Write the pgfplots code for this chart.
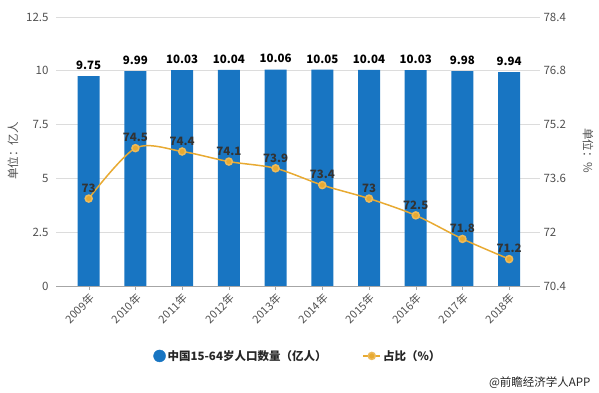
\documentclass[border=0pt]{standalone}
\usepackage{pgfplots}
\pgfplotsset{compat=1.18}
\usepackage{fontspec}
\setmainfont{Noto Sans CJK SC}
\definecolor{barblue}{RGB}{24,117,194}
\definecolor{lineorange}{RGB}{232,170,50}
\definecolor{gridgray}{RGB}{220,220,220}
\definecolor{txtgray}{RGB}{80,80,80}
\begin{document}
\begin{tikzpicture}[x=1pt,y=1pt]
\path[use as bounding box] (0,0) rectangle (599,393);
\begin{axis}[
  at={(56pt,107pt)}, anchor=south west, scale only axis,
  width=484pt, height=269pt,
  xmin=-0.7, xmax=9.66, ymin=0, ymax=12.5,
  /pgf/number format/assume math mode=true,
  axis x line*=bottom, axis y line*=left,
  y axis line style={draw=none},
  x axis line style={draw=gray!70},
  ytick={0,2.5,5,7.5,10,12.5},
  yticklabels={0,2.5,5,7.5,10,12.5},
  ytick style={draw=none},
  ymajorgrids, grid style={gridgray, line width=0.8pt},
  xtick={0,...,9},
  xticklabels={2009年,2010年,2011年,2012年,2013年,2014年,2015年,2016年,2017年,2018年},
  x tick label style={rotate=45, anchor=north east, font=\fontsize{11}{13}\selectfont, text=txtgray, inner sep=1.5pt},
  y tick label style={font=\fontsize{11.5}{13}\selectfont, text=txtgray},
  tick align=outside, major tick length=4pt, xtick style={draw=gray!70},
  ybar, bar width=22pt,
  nodes near coords,
  every node near coord/.append style={font=\bfseries\fontsize{11.5}{13}\selectfont, text=black, yshift=3pt},
]
\addplot[fill=barblue, draw=none] coordinates {
 (0,9.75) (1,9.99) (2,10.03) (3,10.04) (4,10.06) (5,10.05) (6,10.04) (7,10.03) (8,9.98) (9,9.94)};
\end{axis}
\begin{axis}[
  at={(56pt,107pt)}, anchor=south west, scale only axis,
  width=484pt, height=269pt,
  xmin=-0.7, xmax=9.66, ymin=70.4, ymax=78.4,
  /pgf/number format/assume math mode=true,
  axis x line=none, axis y line*=right,
  y axis line style={draw=none},
  ytick={70.4,72,73.6,75.2,76.8,78.4},
  yticklabels={70.4,72,73.6,75.2,76.8,78.4},
  ytick style={draw=none},
  y tick label style={font=\fontsize{11.5}{13}\selectfont, text=txtgray},
  legend style={at={(0.5,-0.26)}, anchor=center, draw=none, fill=none,
    legend columns=2, font=\bfseries\fontsize{11.5}{13}\selectfont, text=black!85,
    /tikz/every even column/.append style={column sep=34pt}},
  legend cell align=left,
]
\addlegendimage{only marks, mark=*, mark size=6pt, barblue}
\addlegendentry{中国15-64岁人口数量（亿人）}
\addplot[smooth, color=lineorange, line width=1.5pt, mark=*, mark size=3.5pt,
  mark options={fill=lineorange, draw=lineorange!80!white},
  nodes near coords,
  every node near coord/.append style={font=\bfseries\fontsize{11.5}{13}\selectfont, text=black!80, yshift=2pt}]
 coordinates {(0,73) (1,74.5) (2,74.4) (3,74.1) (4,73.9) (5,73.4) (6,73) (7,72.5) (8,71.8) (9,71.2)};
\addlegendentry{占比（\%）}
\end{axis}
\node[rotate=90, text=txtgray, font=\fontsize{11.5}{13}\selectfont] at (13,242) {单位：亿人};
\node[rotate=-90, text=txtgray, font=\fontsize{11.5}{13}\selectfont] at (588,242) {单位：\%};
\node[anchor=east, text=black!85, font=\fontsize{11.5}{13}\selectfont] at (594,10) {@前瞻经济学人APP};
\end{tikzpicture}
\end{document}
